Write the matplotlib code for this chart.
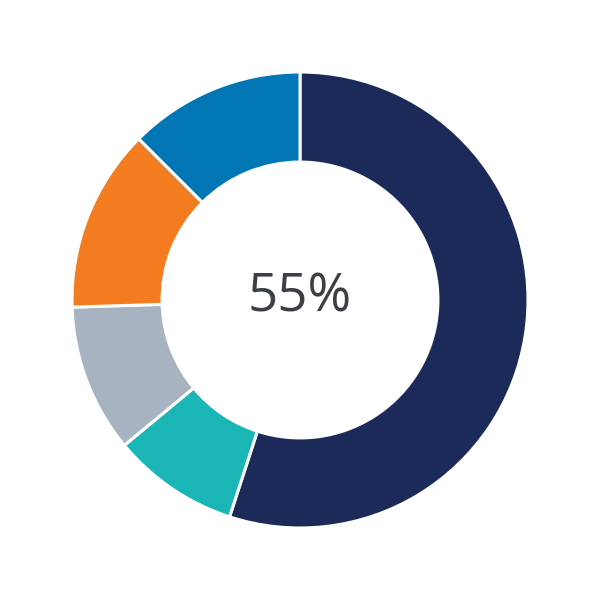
import matplotlib.pyplot as plt

# slice values, clockwise from 12 o'clock
labels = ["Navy", "Teal", "Gray", "Orange", "Blue"]
values = [55, 9, 10.5, 13, 12.5]
colors = ["#1c2a5a", "#1ab5b5", "#a8b3c2", "#f37c20", "#0077b5"]
center_label = "55%"

fig = plt.figure(figsize=(6, 6), dpi=100)
ax = fig.add_axes([0, 0, 1, 1])

ax.pie(
    values,
    colors=colors,
    startangle=90,
    counterclock=False,
    radius=1.0,
    wedgeprops=dict(width=0.395, edgecolor="white", linewidth=2.2),
)

ax.text(0, 0.01, center_label, ha="center", va="center", fontsize=38,
        color="#3b3f46", family=["Open Sans", "DejaVu Sans"], fontweight="normal")

lim = 300 / 228
ax.set_xlim(-lim, lim)
ax.set_ylim(-lim, lim)
ax.set_aspect("equal")
ax.axis("off")

fig.savefig("out.png", dpi=100, facecolor="white")
